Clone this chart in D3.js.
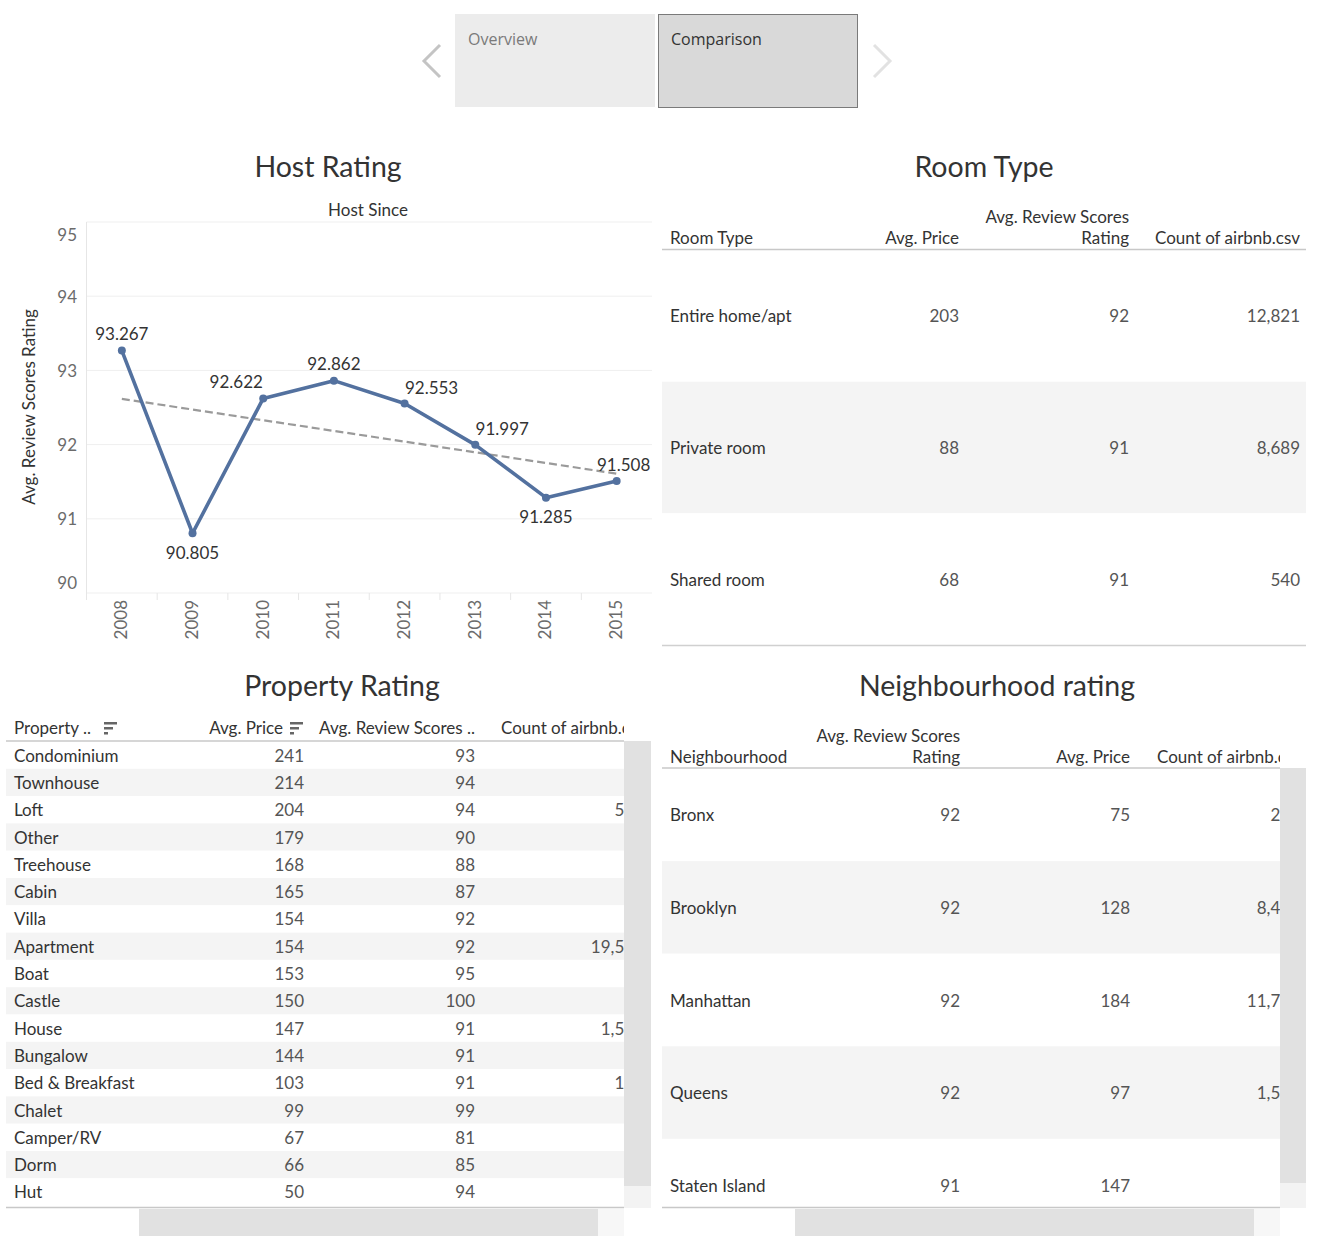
<!DOCTYPE html>
<html><head><meta charset="utf-8">
<script src="https://cdn.jsdelivr.net/npm/d3@7"></script>
<style>
html,body{margin:0;padding:0;background:#fff;}
svg{display:block;font-family:Lato,"Open Sans",sans-serif;}
</style></head>
<body>
<svg id="c" width="1318" height="1244"></svg>
<script>
// ---------- DATA ----------
const years = ["2008","2009","2010","2011","2012","2013","2014","2015"];
const hostRating = [93.267, 90.805, 92.622, 92.862, 92.553, 91.997, 91.285, 91.508];
const yTicks = [90, 91, 92, 93, 94, 95];

const roomTypes = ["Entire home/apt", "Private room", "Shared room"];
const roomAvgPrice = [203, 88, 68];
const roomAvgRating = [92, 91, 91];
const roomCount = [12821, 8689, 540];

const propertyTypes = ["Condominium","Townhouse","Loft","Other","Treehouse","Cabin","Villa","Apartment","Boat","Castle","House","Bungalow","Bed & Breakfast","Chalet","Camper/RV","Dorm","Hut"];
const propertyAvgPrice = [241,214,204,179,168,165,154,154,153,150,147,144,103,99,67,66,50];
const propertyAvgRating = [93,94,94,90,88,87,92,92,95,100,91,91,91,99,81,85,94];
const propertyCount = [62,71,540,38,4,3,4,19560,6,1,1530,6,160,1,8,12,2];

const neighbourhoods = ["Bronx","Brooklyn","Manhattan","Queens","Staten Island"];
const nbAvgRating = [92, 92, 92, 92, 91];
const nbAvgPrice = [75, 128, 184, 97, 147];
const nbCount = [230, 8450, 11760, 1560, 50];

// ---------- HELPERS ----------
const svg = d3.select("#c");
const fmt = d3.format(",");
const FS = 17;

// ---------- NAV ----------
const nav = svg.append("g");
nav.append("rect").attr("x",455).attr("y",14).attr("width",200).attr("height",93).attr("fill","#ececec");
nav.append("rect").attr("x",658.5).attr("y",14.5).attr("width",199).attr("height",93).attr("fill","#d9d9d9").attr("stroke","#7a7a7a");
nav.append("text").attr("x",468).attr("y",45).attr("font-size",16).attr("fill","#7a7a7a").style("font-family","'Open Sans',sans-serif").text("Overview");
nav.append("text").attr("x",671).attr("y",45).attr("font-size",16).attr("fill","#333").style("font-family","'Open Sans',sans-serif").text("Comparison");
nav.append("path").attr("d","M440,45 L424,61 L440,77").attr("fill","none").attr("stroke","#c4c4c4").attr("stroke-width",3);
nav.append("path").attr("d","M874,45 L890,61 L874,77").attr("fill","none").attr("stroke","#e2e2e2").attr("stroke-width",3);

function title(x, y, t){
  svg.append("text").attr("x",x).attr("y",y).attr("text-anchor","middle").attr("dominant-baseline","central")
    .attr("font-size",28.5).attr("fill","#333").text(t);
}

// ---------- HOST RATING LINE ----------
title(328, 166, "Host Rating");
svg.append("text").attr("x",368).attr("y",209).attr("text-anchor","middle").attr("dominant-baseline","central")
  .attr("font-size",FS).attr("fill","#333").text("Host Since");

const x = d3.scaleBand().domain(years).range([86.5, 652]);
const y = d3.scaleLinear().domain([90, 95]).range([593, 222]);
const hg = svg.append("g");

hg.selectAll("line.grid").data(yTicks).join("line").attr("class","grid")
  .attr("x1",86.5).attr("x2",652).attr("y1",d=>y(d)).attr("y2",d=>y(d))
  .attr("stroke","#efefef").attr("stroke-width",1);
hg.append("line").attr("x1",86.5).attr("x2",86.5).attr("y1",222).attr("y2",600).attr("stroke","#e6e6e6");
hg.selectAll("line.xt").data(years).join("line").attr("class","xt")
  .attr("x1",d=>x(d)).attr("x2",d=>x(d)).attr("y1",593).attr("y2",600).attr("stroke","#e6e6e6");

hg.selectAll("text.yl").data(yTicks).join("text").attr("class","yl")
  .attr("x",77).attr("y",d=> d===95 ? y(d)+12 : d===90 ? y(d)-11 : y(d))
  .attr("text-anchor","end").attr("dominant-baseline","central")
  .attr("font-size",FS).attr("fill","#6b6b6b").text(d=>d);
hg.selectAll("text.xl").data(years).join("text").attr("class","xl")
  .attr("transform",d=>`translate(${x(d)+x.bandwidth()/2-1},600) rotate(-90)`)
  .attr("text-anchor","end").attr("dominant-baseline","central")
  .attr("font-size",FS).attr("fill","#6b6b6b").text(d=>d);
hg.append("text").attr("transform","translate(28,407) rotate(-90)").attr("text-anchor","middle")
  .attr("dominant-baseline","central").attr("font-size",FS).attr("fill","#333").text("Avg. Review Scores Rating");

// trend line (least squares)
const n = hostRating.length;
const mx = d3.mean(d3.range(n)), my = d3.mean(hostRating);
const slope = d3.sum(d3.range(n), i => (i-mx)*(hostRating[i]-my)) / d3.sum(d3.range(n), i => (i-mx)*(i-mx));
const icpt = my - slope*mx;
const cx = i => x(years[i]) + x.bandwidth()/2;
hg.append("line").attr("x1",cx(0)).attr("y1",y(icpt)).attr("x2",cx(n-1)).attr("y2",y(icpt+slope*(n-1)))
  .attr("stroke","#9a9a9a").attr("stroke-width",2.2).attr("stroke-dasharray","8,4");

const line = d3.line().x((d,i)=>cx(i)).y(d=>y(d));
hg.append("path").datum(hostRating).attr("d",line).attr("fill","none")
  .attr("stroke","#53719f").attr("stroke-width",3.6).attr("stroke-linejoin","round");
hg.selectAll("circle").data(hostRating).join("circle")
  .attr("cx",(d,i)=>cx(i)).attr("cy",d=>y(d)).attr("r",4).attr("fill","#53719f");

const labelPlace = ["up","down","upleft","up","upright","upright","down","up"];
const offs = {up:[0,-17], down:[0,19], upleft:[-27,-17], upright:[27,-16]};
hg.selectAll("text.dl").data(hostRating).join("text").attr("class","dl")
  .attr("x",(d,i)=>cx(i)+offs[labelPlace[i]][0] + (i===n-1?7:0))
  .attr("y",(d,i)=>y(d)+offs[labelPlace[i]][1])
  .attr("text-anchor","middle").attr("dominant-baseline","central")
  .attr("font-size",FS).attr("fill","#333").text(d=>d3.format(".3f")(d));

// ---------- TABLE DRAWER ----------
function drawTable(cfg){
  const g = svg.append("g");
  const clipId = "clip"+cfg.id;
  svg.append("clipPath").attr("id",clipId).append("rect")
    .attr("x",cfg.clip[0]).attr("y",cfg.clip[1]).attr("width",cfg.clip[2]).attr("height",cfg.clip[3]);
  const body = g.append("g").attr("clip-path",`url(#${clipId})`);
  const rows = cfg.rows;
  const rowY = d3.scaleBand().domain(d3.range(rows.length)).range([cfg.top, cfg.top + cfg.rowH*rows.length]);
  body.selectAll("rect.row").data(rows).join("rect").attr("class","row")
    .attr("x",cfg.x0).attr("width",cfg.x1-cfg.x0)
    .attr("y",(d,i)=>rowY(i)).attr("height",rowY.bandwidth())
    .attr("fill",(d,i)=> i%2 ? "#f4f4f4" : "#fff");
  cfg.cols.forEach(col=>{
    body.selectAll(null).data(rows).join("text")
      .attr("x",col.x).attr("y",(d,i)=>rowY(i)+rowY.bandwidth()/2)
      .attr("text-anchor",col.anchor).attr("dominant-baseline","central")
      .attr("font-size",FS).attr("fill",col.color)
      .text(d=>col.fmt(d[col.key]));
    const hl = col.header;
    hl.forEach((t,j)=>{
      g.append("text").attr("x",col.hx!==undefined?col.hx:col.x).attr("y",cfg.headY - (hl.length-1-j)*21)
        .attr("text-anchor",col.hAnchor||col.anchor).attr("font-size",FS).attr("fill","#333")
        .attr("clip-path",`url(#${clipId})`).text(t);
    });
  });
  g.append("line").attr("x1",cfg.x0).attr("x2",cfg.x1).attr("y1",cfg.top-0.5).attr("y2",cfg.top-0.5)
    .attr("stroke","#c8c8c8").attr("stroke-width",1.5);
  return g;
}

function sortIcon(gx, gy){
  const s = svg.append("g").attr("transform",`translate(${gx},${gy})`).attr("fill","#666");
  s.append("rect").attr("x",0).attr("y",0).attr("width",13).attr("height",2.5);
  s.append("rect").attr("x",0).attr("y",5).attr("width",9).attr("height",2.5);
  s.append("rect").attr("x",0).attr("y",10).attr("width",4).attr("height",2.5);
}

// ---------- ROOM TYPE ----------
title(984, 166, "Room Type");
const roomRows = roomTypes.map((t,i)=>({name:t, price:roomAvgPrice[i], rating:roomAvgRating[i], count:roomCount[i]}));
drawTable({id:"room", rows:roomRows, x0:662, x1:1306, top:250, rowH:131.7, headY:244,
  clip:[662,190,646,460],
  cols:[
    {key:"name", x:670, anchor:"start", color:"#333", fmt:d=>d, header:["Room Type"]},
    {key:"price", x:959, anchor:"end", color:"#555", fmt:fmt, header:["Avg. Price"]},
    {key:"rating", x:1129, anchor:"end", color:"#555", fmt:fmt, header:["Avg. Review Scores","Rating"]},
    {key:"count", x:1300, anchor:"end", color:"#555", fmt:fmt, header:["Count of airbnb.csv"]}
  ]});
svg.append("line").attr("x1",662).attr("x2",1306).attr("y1",645.5).attr("y2",645.5).attr("stroke","#d0d0d0").attr("stroke-width",1.5);

// ---------- PROPERTY RATING ----------
title(342, 685, "Property Rating");
const propRows = propertyTypes.map((t,i)=>({name:t, price:propertyAvgPrice[i], rating:propertyAvgRating[i], count:propertyCount[i]}));
drawTable({id:"prop", rows:propRows, x0:6, x1:624, top:741.5, rowH:27.3, headY:734,
  clip:[6,700,618,508],
  cols:[
    {key:"name", x:14, anchor:"start", color:"#333", fmt:d=>d, header:["Property .."]},
    {key:"price", x:304, anchor:"end", color:"#555", fmt:fmt, hx:283, header:["Avg. Price"]},
    {key:"rating", x:475, anchor:"end", color:"#555", fmt:fmt, header:["Avg. Review Scores .."]},
    {key:"count", x:644, anchor:"end", color:"#555", fmt:fmt, hx:501, hAnchor:"start", header:["Count of airbnb.csv"]}
  ]});
sortIcon(104, 722);
sortIcon(290, 722);
svg.append("line").attr("x1",6).attr("x2",624).attr("y1",1207.5).attr("y2",1207.5).attr("stroke","#c8c8c8").attr("stroke-width",1.5);
svg.append("rect").attr("x",624).attr("y",741).attr("width",27).attr("height",445).attr("fill","#e1e1e1");
svg.append("rect").attr("x",624).attr("y",1186).attr("width",27).attr("height",22).attr("fill","#f3f3f3");
svg.append("rect").attr("x",139).attr("y",1209).attr("width",459).attr("height",27).attr("fill","#e1e1e1");
svg.append("rect").attr("x",598).attr("y",1209).attr("width",26).attr("height",27).attr("fill","#f7f7f7");

// ---------- NEIGHBOURHOOD ----------
title(997, 685, "Neighbourhood rating");
const nbRows = neighbourhoods.map((t,i)=>({name:t, rating:nbAvgRating[i], price:nbAvgPrice[i], count:nbCount[i]}));
drawTable({id:"nb", rows:nbRows, x0:662, x1:1280, top:768.5, rowH:92.6, headY:763,
  clip:[662,700,618,508],
  cols:[
    {key:"name", x:670, anchor:"start", color:"#333", fmt:d=>d, header:["Neighbourhood"]},
    {key:"rating", x:960, anchor:"end", color:"#555", fmt:fmt, header:["Avg. Review Scores","Rating"]},
    {key:"price", x:1130, anchor:"end", color:"#555", fmt:fmt, header:["Avg. Price"]},
    {key:"count", x:1300, anchor:"end", color:"#555", fmt:fmt, hx:1157, hAnchor:"start", header:["Count of airbnb.csv"]}
  ]});
svg.append("line").attr("x1",662).attr("x2",1280).attr("y1",1207.5).attr("y2",1207.5).attr("stroke","#c8c8c8").attr("stroke-width",1.5);
svg.append("rect").attr("x",1280).attr("y",768).attr("width",26).attr("height",415).attr("fill","#e1e1e1");
svg.append("rect").attr("x",1280).attr("y",1183).attr("width",26).attr("height",25).attr("fill","#f3f3f3");
svg.append("rect").attr("x",795).attr("y",1209).attr("width",459).attr("height",27).attr("fill","#e1e1e1");
svg.append("rect").attr("x",1254).attr("y",1209).attr("width",26).attr("height",27).attr("fill","#f7f7f7");
</script>
</body></html>
